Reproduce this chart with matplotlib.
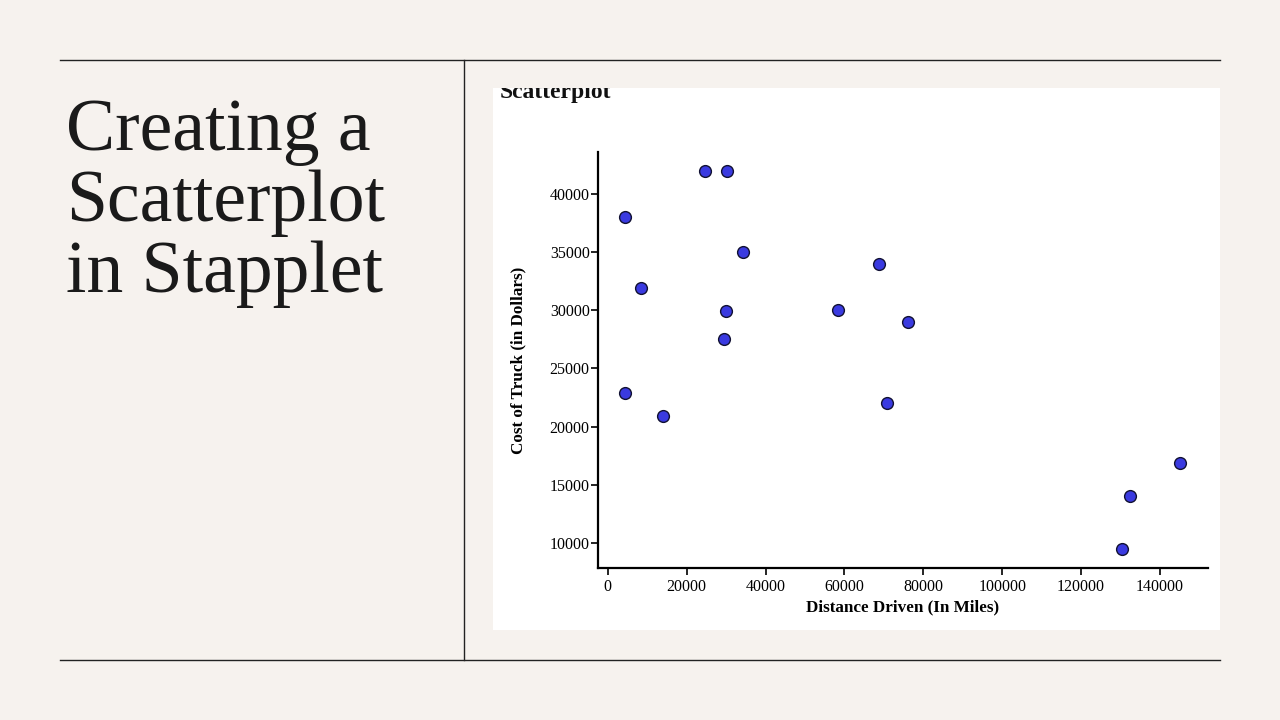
import matplotlib.pyplot as plt
from matplotlib.patches import Rectangle
from matplotlib.lines import Line2D

# data
distance = [4300, 4300, 8400, 13900, 24600, 30200, 34200, 29900, 29400,
            58300, 68700, 76100, 70800, 130400, 132400, 145000]
cost = [38000, 22900, 31900, 20900, 42000, 42000, 35000, 29900, 27500,
        30000, 34000, 29000, 22000, 9500, 14000, 16900]
x_ticks = [0, 20000, 40000, 60000, 80000, 100000, 120000, 140000]
y_ticks = [10000, 15000, 20000, 25000, 30000, 35000, 40000]

title_lines = "Creating a\nScatterplot\nin Stapplet"
serif = ["Liberation Serif", "DejaVu Serif"]

bg = "#f6f2ee"
fig = plt.figure(figsize=(12.8, 7.2), dpi=100, facecolor=bg)

# slide frame lines
W, H = 1280, 720
for (x0, y0, x1, y1) in [(60, 60, 1220, 60), (60, 660, 1220, 660), (464, 60, 464, 660)]:
    fig.add_artist(Line2D([x0 / W, x1 / W], [1 - y0 / H, 1 - y1 / H],
                          color="#222222", lw=1.0))

fig.text(66 / W, 1 - 98 / H, title_lines, family=serif, fontsize=53,
         va="top", ha="left", linespacing=1.07, color="#1a1a1a")

# white screenshot panel
panel = Rectangle((493 / W, 1 - 630 / H), (1220 - 493) / W, (630 - 88) / H,
                  transform=fig.transFigure, facecolor="white", edgecolor="none",
                  zorder=-1)
fig.add_artist(panel)
t = fig.text(500 / W, 1 - 98 / H, "Scatterplot", family=serif, fontsize=17,
             fontweight="bold", va="baseline", ha="left", color="#111111")
t.set_clip_path(panel)

ax = fig.add_axes([598 / W, 1 - 568 / H, 610 / W, 416 / H])
ax.patch.set_alpha(0)
ax.scatter(distance, cost, s=72, color="#3a3ae0", edgecolors="#111133",
           linewidths=1.0, zorder=3, clip_on=False)

ax.set_xlim(-2500, 152200)
ax.set_ylim(7840, 43600)
ax.set_xticks(x_ticks)
ax.set_yticks(y_ticks)
ax.set_xticklabels([str(v) for v in x_ticks], family=serif, fontsize=11.5)
ax.set_yticklabels([str(v) for v in y_ticks], family=serif, fontsize=11.5)
ax.tick_params(axis="y", direction="out", length=5, width=1.2, pad=1)
ax.tick_params(axis="x", direction="out", length=5, width=1.2, pad=3)

for s in ["top", "right"]:
    ax.spines[s].set_visible(False)
for s in ["left", "bottom"]:
    ax.spines[s].set_linewidth(1.6)

ax.set_xlabel("Distance Driven (In Miles)", family=serif, fontsize=12.3,
              fontweight="bold", labelpad=3)
ax.set_ylabel("Cost of Truck (in Dollars)", family=serif, fontsize=12.3,
              fontweight="bold", labelpad=17)

fig.savefig("out.png", dpi=100, facecolor=bg)
